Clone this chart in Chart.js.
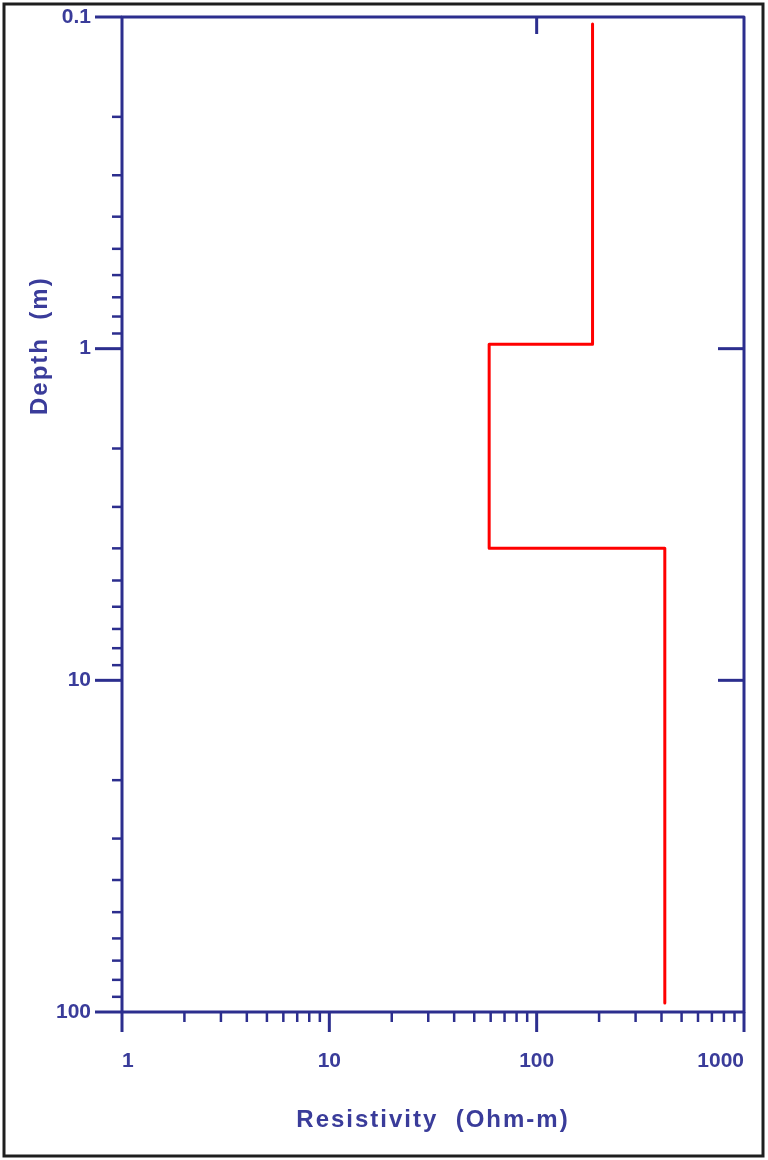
<!DOCTYPE html>
<html>
<head>
<meta charset="utf-8">
<script src="https://cdn.jsdelivr.net/npm/chart.js@4.4.1/dist/chart.umd.min.js"></script>
<style>
  html, body { margin: 0; padding: 0; background: #ffffff; overflow: hidden; }
  #wrap { position: relative; width: 768px; height: 1160px; }
</style>
</head>
<body>
<div id="wrap"><canvas id="c"></canvas></div>
<script>
// ---- data ----
const resistivity = [186, 59, 415];          // Ohm-m, one value per layer
const layerTop    = [0.105, 0.97, 4.0];      // m
const layerBottom = [0.97, 4.0, 94];         // m

// ---- axis ticks ----
const xTickValues = [1, 2, 3, 4, 5, 6, 7, 8, 9,
                     10, 20, 30, 40, 50, 60, 70, 80, 90,
                     100, 200, 300, 400, 500, 600, 700, 800, 900, 1000];
const xMajorLabels = {1: '1', 10: '10', 100: '100', 1000: '1000'};
const yTickValues = [0.1, 0.2, 0.3, 0.4, 0.5, 0.6, 0.7, 0.8, 0.9,
                     1, 2, 3, 4, 5, 6, 7, 8, 9,
                     10, 20, 30, 40, 50, 60, 70, 80, 90, 100];
const yMajorLabels = {0.1: '0.1', 1: '1', 10: '10', 100: '100'};
const xTopTicks = [100];
const yRightTicks = [1, 10];

const xTitle = 'Resistivity  (Ohm-m)';
const yTitle = 'Depth  (m)';

const NAVY = '#2c2e8e';
const TEXT = '#3a3c9a';
const FONT = '"Liberation Sans", Arial, sans-serif';

const points = [];
for (let i = 0; i < resistivity.length; i++) {
  points.push({x: resistivity[i], y: layerTop[i]});
  points.push({x: resistivity[i], y: layerBottom[i]});
}

const isMajor = v => Math.abs(Math.log10(v) - Math.round(Math.log10(v))) < 1e-9;

const decorPlugin = {
  id: 'decor',
  beforeDraw(chart) {
    const ctx = chart.ctx;
    ctx.save();
    ctx.fillStyle = '#ffffff';
    ctx.fillRect(0, 0, chart.width, chart.height);
    ctx.strokeStyle = '#1e1e1e';
    ctx.lineWidth = 3;
    ctx.strokeRect(4, 4, 759, 1152);
    ctx.restore();
  },
  afterDraw(chart) {
    const ctx = chart.ctx;
    const a = chart.chartArea;
    const xs = chart.scales.x, ys = chart.scales.y;
    ctx.save();
    ctx.strokeStyle = NAVY;
    ctx.lineCap = 'butt';
    // frame of the plot
    ctx.lineWidth = 3;
    ctx.lineJoin = 'round';
    ctx.strokeRect(a.left, a.top, a.right - a.left, a.bottom - a.top);
    // bottom ticks
    xTickValues.forEach(v => {
      const px = xs.getPixelForValue(v);
      const len = isMajor(v) ? 20 : 10;
      ctx.lineWidth = isMajor(v) ? 3 : 2.5;
      ctx.beginPath();
      ctx.moveTo(px, a.bottom);
      ctx.lineTo(px, a.bottom + len);
      ctx.stroke();
    });
    // left ticks
    yTickValues.forEach(v => {
      const py = ys.getPixelForValue(v);
      const len = isMajor(v) ? 27 : 10;
      ctx.lineWidth = isMajor(v) ? 3 : 2.5;
      ctx.beginPath();
      ctx.moveTo(a.left - len, py);
      ctx.lineTo(a.left, py);
      ctx.stroke();
    });
    // top ticks (inward)
    ctx.lineWidth = 3;
    xTopTicks.forEach(v => {
      const px = xs.getPixelForValue(v);
      ctx.beginPath();
      ctx.moveTo(px, a.top);
      ctx.lineTo(px, a.top + 17);
      ctx.stroke();
    });
    // right ticks (inward)
    yRightTicks.forEach(v => {
      const py = ys.getPixelForValue(v);
      ctx.beginPath();
      ctx.moveTo(a.right - 26, py);
      ctx.lineTo(a.right, py);
      ctx.stroke();
    });
    // titles
    ctx.fillStyle = TEXT;
    ctx.font = 'bold 24px ' + FONT;
    try { ctx.letterSpacing = '2px'; } catch (e) {}
    ctx.textAlign = 'center';
    ctx.textBaseline = 'middle';
    ctx.fillText(xTitle, (a.left + a.right) / 2, 1120);
    ctx.save();
    ctx.translate(40, ys.getPixelForValue(1) - 3);
    ctx.rotate(-Math.PI / 2);
    ctx.fillText(yTitle, 0, 0);
    ctx.restore();
    ctx.restore();
  }
};

new Chart(document.getElementById('c'), {
  type: 'line',
  data: {
    datasets: [{
      data: points,
      borderColor: '#ff0000',
      borderWidth: 3,
      borderJoinStyle: 'round',
      pointRadius: 0,
      tension: 0,
      fill: false
    }]
  },
  options: {
    responsive: true,
    maintainAspectRatio: false,
    animation: false,
    devicePixelRatio: 1,
    layout: { padding: { left: 0, top: 17, right: 24, bottom: 0 } },
    plugins: { legend: { display: false }, tooltip: { enabled: false }, title: { display: false } },
    scales: {
      x: {
        type: 'logarithmic',
        position: 'bottom',
        min: 1,
        max: 1000,
        afterBuildTicks: s => { s.ticks = xTickValues.map(v => ({value: v, major: isMajor(v)})); },
        afterFit: s => { s.height = 148; s.paddingLeft = 0; s.paddingRight = 0; },
        border: { display: false },
        grid: { display: true, drawOnChartArea: false, drawTicks: false },
        ticks: {
          autoSkip: false,
          maxRotation: 0,
          minRotation: 0,
          align: 'inner',
          padding: 37,
          color: TEXT,
          font: { family: FONT, size: 21, weight: 'bold' },
          callback: v => xMajorLabels[v] !== undefined ? xMajorLabels[v] : ''
        }
      },
      y: {
        type: 'logarithmic',
        position: 'left',
        reverse: true,
        min: 0.1,
        max: 100,
        afterBuildTicks: s => { s.ticks = yTickValues.map(v => ({value: v, major: isMajor(v)})); },
        afterFit: s => { s.width = 122; s.paddingTop = 0; s.paddingBottom = 0; },
        border: { display: false },
        grid: { display: true, drawOnChartArea: false, drawTicks: false },
        ticks: {
          autoSkip: false,
          padding: 31,
          color: TEXT,
          font: { family: FONT, size: 21, weight: 'bold' },
          callback: v => {
            const key = Object.keys(yMajorLabels).find(k => Math.abs(parseFloat(k) - v) < 1e-9);
            return key !== undefined ? yMajorLabels[key] : '';
          }
        }
      }
    }
  },
  plugins: [decorPlugin]
});
</script>
</body>
</html>
